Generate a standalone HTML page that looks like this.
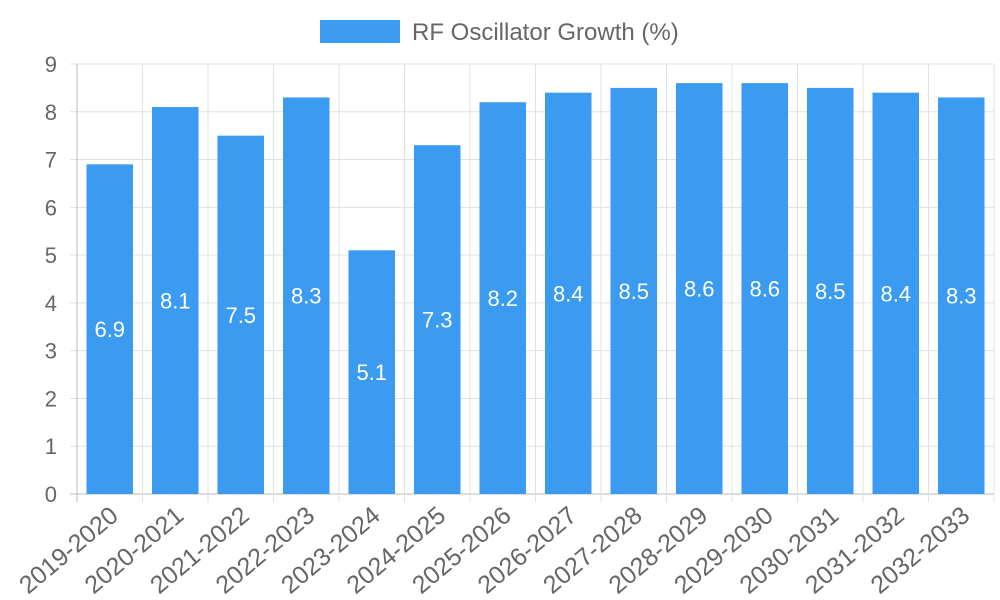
<!DOCTYPE html>
<html><head><meta charset="utf-8"><style>
html,body{margin:0;padding:0;background:#fff;}
svg{display:block;font-family:"Liberation Sans",sans-serif;}
</style></head><body>
<svg id="chart" width="1000" height="600" viewBox="0 0 1000 600">
<g id="legend">
<rect x="320" y="20" width="80" height="23" fill="#3a9bf0"></rect>
<text x="412" y="40" font-size="24" fill="#666">RF Oscillator Growth (%)</text>
</g>
<g id="grid"></g><g id="bars"></g><g id="labels"></g>
</svg>
<script>
const categories=["2019-2020","2020-2021","2021-2022","2022-2023","2023-2024","2024-2025","2025-2026","2026-2027","2027-2028","2028-2029","2029-2030","2030-2031","2031-2032","2032-2033"];
const values=[6.9,8.1,7.5,8.3,5.1,7.3,8.2,8.4,8.5,8.6,8.6,8.5,8.4,8.3];
const yTicks=[0,1,2,3,4,5,6,7,8,9];
const NS="http://www.w3.org/2000/svg";
const L=77,R=994,T=64,B=494,yMax=9;
const bw=(R-L)/categories.length;
const y=v=>B-(v/yMax)*(B-T);
const x=i=>L+i*bw;
function mk(tag,attrs,parent,txt){const e=document.createElementNS(NS,tag);for(const k in attrs)e.setAttribute(k,attrs[k]);if(txt!==undefined)e.textContent=txt;parent.appendChild(e);return e;}
const grid=document.getElementById('grid'),bars=document.getElementById('bars'),labels=document.getElementById('labels');
yTicks.forEach(t=>{
  const g=mk('line',{x1:L-7,x2:R,y1:y(t),y2:y(t),stroke:t===0?'#bbb':'#e0e0e0','stroke-width':1},grid);
  
  
  const tx=mk('text',{x:L-20,y:y(t)+8,'text-anchor':'end','font-size':22,fill:'#666'},grid,String(t));
  
  
});
for(let i=0;i<=categories.length;i++){
  const g=mk('line',{x1:x(i),x2:x(i),y1:T,y2:B+8,stroke:i===0?'#bbb':'#e0e0e0','stroke-width':1},grid);
  
  
}
categories.forEach((c,i)=>{
  const cx=x(i)+bw/2,w=bw*0.71,v=values[i];
  const r=mk('rect',{x:cx-w/2,y:y(v),width:w,height:B-y(v),fill:'#3a9bf0'},bars);
  
  
  const vt=mk('text',{x:cx,y:(y(v)+B)/2+8,'text-anchor':'middle','font-size':22,fill:'#fff'},labels,v.toFixed(1));
  
  
  const ax=cx+10,ay=B+24;
  const xt=mk('text',{x:ax,y:ay,'text-anchor':'end','font-size':25,fill:'#666',transform:`rotate(-40 ${ax} ${ay})`},labels,c);
  
  
});
</script>
</body></html>
